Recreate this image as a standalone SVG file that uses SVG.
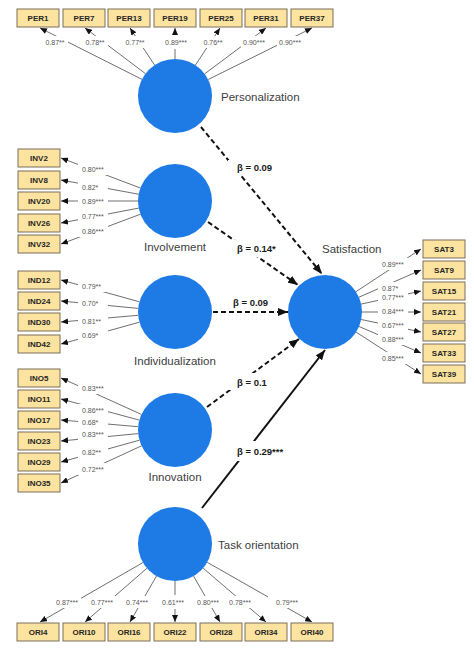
<svg xmlns="http://www.w3.org/2000/svg" width="474" height="651" viewBox="0 0 474 651">
<defs>
<style>
.box rect{fill:#FCE4A0;stroke:#7a6f5a;stroke-width:1}
.box text{font-family:"Liberation Sans",Arial,sans-serif;font-size:8px;font-weight:bold;fill:#262626;text-anchor:middle}
.lv circle{fill:#1E7BE6}
.lv text{font-family:"Liberation Sans",Arial,sans-serif;font-size:11.5px;fill:#404040}
.ind{stroke:#4a4a4a;stroke-width:0.8;fill:none;marker-end:url(#ah)}
.pth{stroke:#111;stroke-width:2;fill:none;marker-end:url(#ahL)}
.dash{stroke-dasharray:5 3}
.bg{fill:#fff}
.ld{font-family:"Liberation Sans",Arial,sans-serif;font-size:7px;fill:#555}
.ldc{text-anchor:middle}
.beta{font-family:"Liberation Sans",Arial,sans-serif;font-size:9.5px;font-weight:bold;fill:#1a1a1a}
</style>
<marker id="ah" markerUnits="userSpaceOnUse" markerWidth="7" markerHeight="6" refX="7" refY="3" orient="auto"><path d="M0,0 L7,3 L0,6 z" fill="#111"/></marker>
<marker id="ahL" markerUnits="userSpaceOnUse" markerWidth="10" markerHeight="8" refX="10" refY="4" orient="auto"><path d="M0,0 L10,4 L0,8 z" fill="#111"/></marker>
</defs>
<rect width="474" height="651" fill="#fff"/>
<g id="connectors">
<line class="ind" x1="142" y1="79.4" x2="40" y2="28"/>
<line class="ind" x1="145.5" y1="73.7" x2="85" y2="28"/>
<line class="ind" x1="154.6" y1="65.1" x2="130" y2="28"/>
<line class="ind" x1="175" y1="59" x2="175" y2="28"/>
<line class="ind" x1="195.4" y1="65.1" x2="220" y2="28"/>
<line class="ind" x1="204.6" y1="73.9" x2="266" y2="28"/>
<line class="ind" x1="208.2" y1="79.5" x2="312" y2="28"/>
<line class="ind" x1="140.4" y1="188" x2="61" y2="158"/>
<line class="ind" x1="138.6" y1="194.2" x2="61" y2="180"/>
<line class="ind" x1="138" y1="201" x2="61" y2="201"/>
<line class="ind" x1="138.7" y1="208.1" x2="61" y2="223"/>
<line class="ind" x1="140.5" y1="214.2" x2="61" y2="244"/>
<line class="ind" x1="139.4" y1="301.8" x2="61" y2="280"/>
<line class="ind" x1="138.2" y1="308.4" x2="61" y2="301"/>
<line class="ind" x1="138.1" y1="315.3" x2="61" y2="322"/>
<line class="ind" x1="139.4" y1="322.2" x2="61" y2="344"/>
<line class="ind" x1="141.4" y1="414.4" x2="61" y2="378"/>
<line class="ind" x1="139.3" y1="420.1" x2="61" y2="399"/>
<line class="ind" x1="138.1" y1="426.7" x2="61" y2="420"/>
<line class="ind" x1="138.2" y1="433.6" x2="61" y2="441"/>
<line class="ind" x1="139.4" y1="440.2" x2="61" y2="462"/>
<line class="ind" x1="141.6" y1="445.8" x2="61" y2="483"/>
<line class="ind" x1="355.9" y1="291.7" x2="421" y2="249"/>
<line class="ind" x1="358.9" y1="297.2" x2="421" y2="270"/>
<line class="ind" x1="361.1" y1="304.1" x2="421" y2="291"/>
<line class="ind" x1="362" y1="312" x2="421" y2="312"/>
<line class="ind" x1="361.2" y1="319.5" x2="421" y2="332"/>
<line class="ind" x1="359" y1="326.5" x2="421" y2="353"/>
<line class="ind" x1="356.1" y1="332.1" x2="421" y2="374"/>
<line class="ind" x1="143" y1="562.5" x2="40" y2="622"/>
<line class="ind" x1="147" y1="568.2" x2="85" y2="622"/>
<line class="ind" x1="156.5" y1="576" x2="130" y2="622"/>
<line class="ind" x1="175" y1="581" x2="175" y2="622"/>
<line class="ind" x1="193.5" y1="576" x2="220" y2="622"/>
<line class="ind" x1="203.1" y1="568.1" x2="266" y2="622"/>
<line class="ind" x1="207.2" y1="562.3" x2="312" y2="622"/>
<line class="pth dash" x1="201" y1="127" x2="322" y2="274"/>
<line class="pth dash" x1="208" y1="222" x2="298" y2="285"/>
<line class="pth dash" x1="213" y1="312" x2="288" y2="312"/>
<line class="pth dash" x1="207" y1="407" x2="299" y2="339"/>
<line class="pth" x1="202" y1="508" x2="325" y2="350"/>
</g>
<g id="loadings">
<rect class="bg" x="42" y="36" width="26" height="12"/><text class="ld ldc" x="55" y="44.5">0.87**</text>
<rect class="bg" x="82" y="36" width="26" height="12"/><text class="ld ldc" x="95" y="44.5">0.78**</text>
<rect class="bg" x="122" y="36" width="26" height="12"/><text class="ld ldc" x="135" y="44.5">0.77**</text>
<rect class="bg" x="163" y="35" width="26" height="14"/><text class="ld ldc" x="176" y="44.5">0.89***</text>
<rect class="bg" x="200" y="36" width="26" height="12"/><text class="ld ldc" x="213" y="44.5">0.76**</text>
<rect class="bg" x="241" y="36" width="26" height="12"/><text class="ld ldc" x="254" y="44.5">0.90***</text>
<rect class="bg" x="277" y="36" width="26" height="12"/><text class="ld ldc" x="290" y="44.5">0.90***</text>

<rect class="bg" x="78" y="163" width="30" height="12"/><text class="ld" x="82" y="171.5">0.80***</text>
<rect class="bg" x="78" y="181" width="30" height="12"/><text class="ld" x="82" y="189.5">0.82*</text>
<rect class="bg" x="78" y="195" width="30" height="12"/><text class="ld" x="82" y="203.5">0.89***</text>
<rect class="bg" x="78" y="210" width="30" height="12"/><text class="ld" x="82" y="218.5">0.77***</text>
<rect class="bg" x="78" y="225" width="30" height="12"/><text class="ld" x="82" y="233.5">0.86***</text>

<rect class="bg" x="78" y="280" width="30" height="12"/><text class="ld" x="82" y="288.5">0.79**</text>
<rect class="bg" x="78" y="297" width="30" height="12"/><text class="ld" x="82" y="305.5">0.70*</text>
<rect class="bg" x="78" y="315" width="30" height="12"/><text class="ld" x="82" y="323.5">0.81**</text>
<rect class="bg" x="78" y="329" width="30" height="12"/><text class="ld" x="82" y="337.5">0.69*</text>

<rect class="bg" x="78" y="382" width="30" height="12"/><text class="ld" x="82" y="390.5">0.83***</text>
<rect class="bg" x="78" y="404" width="30" height="12"/><text class="ld" x="82" y="412.5">0.86***</text>
<rect class="bg" x="78" y="416" width="30" height="12"/><text class="ld" x="82" y="424.5">0.68*</text>
<rect class="bg" x="78" y="428" width="30" height="12"/><text class="ld" x="82" y="436.5">0.83***</text>
<rect class="bg" x="78" y="446" width="30" height="12"/><text class="ld" x="82" y="454.5">0.82**</text>
<rect class="bg" x="78" y="463" width="30" height="12"/><text class="ld" x="82" y="471.5">0.72***</text>

<rect class="bg" x="378" y="258" width="30" height="12"/><text class="ld" x="382" y="266.5">0.89***</text>
<rect class="bg" x="378" y="282" width="30" height="12"/><text class="ld" x="382" y="290.5">0.87*</text>
<rect class="bg" x="378" y="291" width="30" height="12"/><text class="ld" x="382" y="299.5">0.77***</text>
<rect class="bg" x="378" y="305" width="30" height="12"/><text class="ld" x="382" y="313.5">0.84***</text>
<rect class="bg" x="378" y="319" width="30" height="12"/><text class="ld" x="382" y="327.5">0.67***</text>
<rect class="bg" x="378" y="333" width="30" height="12"/><text class="ld" x="382" y="341.5">0.88***</text>
<rect class="bg" x="378" y="352" width="30" height="12"/><text class="ld" x="382" y="360.5">0.85***</text>

<rect class="bg" x="53" y="596" width="28" height="12"/><text class="ld ldc" x="67" y="604.5">0.87***</text>
<rect class="bg" x="88" y="596" width="28" height="12"/><text class="ld ldc" x="102" y="604.5">0.77***</text>
<rect class="bg" x="123" y="596" width="28" height="12"/><text class="ld ldc" x="137" y="604.5">0.74***</text>
<rect class="bg" x="159" y="595" width="28" height="14"/><text class="ld ldc" x="173" y="604.5">0.61***</text>
<rect class="bg" x="194" y="596" width="28" height="12"/><text class="ld ldc" x="208" y="604.5">0.80***</text>
<rect class="bg" x="226" y="596" width="28" height="12"/><text class="ld ldc" x="240" y="604.5">0.78***</text>
<rect class="bg" x="268" y="596" width="32" height="12"/><text class="ld ldc" x="287" y="604.5">0.79***</text>
</g>
<g id="path-labels">
<rect class="bg" x="228" y="160" width="48" height="15"/><text class="beta" x="237" y="170.5">β = 0.09</text>
<rect class="bg" x="232" y="240" width="50" height="17"/><text class="beta" x="237" y="251.5">β = 0.14*</text>
<text class="beta" x="233" y="305.5">β = 0.09</text>
<rect class="bg" x="228" y="373" width="44" height="17"/><text class="beta" x="237" y="385.5">β = 0.1</text>
<rect class="bg" x="235" y="441" width="60" height="20"/><text class="beta" x="237" y="454.5">β = 0.29***</text>
</g>
<g id="personalization" class="lv"><circle cx="175" cy="96" r="37"/><text x="221" y="101">Personalization</text></g>
<g id="involvement" class="lv"><circle cx="175" cy="201" r="37"/><text x="175" y="251" text-anchor="middle">Involvement</text></g>
<g id="individualization" class="lv"><circle cx="175" cy="312" r="37"/><text x="175" y="365" text-anchor="middle">Individualization</text></g>
<g id="innovation" class="lv"><circle cx="175" cy="430" r="37"/><text x="175" y="481" text-anchor="middle">Innovation</text></g>
<g id="task-orientation" class="lv"><circle cx="175" cy="544" r="37"/><text x="218" y="549">Task orientation</text></g>
<g id="satisfaction" class="lv"><circle cx="325" cy="312" r="37"/><text x="322" y="253">Satisfaction</text></g>

<g id="PER1" class="box"><rect x="17" y="9" width="42" height="18"/><text x="38" y="21">PER1</text></g>
<g id="PER7" class="box"><rect x="63" y="9" width="42" height="18"/><text x="84" y="21">PER7</text></g>
<g id="PER13" class="box"><rect x="108" y="9" width="42" height="18"/><text x="129" y="21">PER13</text></g>
<g id="PER19" class="box"><rect x="154" y="9" width="42" height="18"/><text x="175" y="21">PER19</text></g>
<g id="PER25" class="box"><rect x="200" y="9" width="42" height="18"/><text x="221" y="21">PER25</text></g>
<g id="PER31" class="box"><rect x="245" y="9" width="42" height="18"/><text x="266" y="21">PER31</text></g>
<g id="PER37" class="box"><rect x="291" y="9" width="42" height="18"/><text x="312" y="21">PER37</text></g>

<g id="INV2" class="box"><rect x="18" y="149" width="42" height="18"/><text x="39" y="161">INV2</text></g>
<g id="INV8" class="box"><rect x="18" y="171" width="42" height="18"/><text x="39" y="183">INV8</text></g>
<g id="INV20" class="box"><rect x="18" y="192" width="42" height="18"/><text x="39" y="204">INV20</text></g>
<g id="INV26" class="box"><rect x="18" y="214" width="42" height="18"/><text x="39" y="226">INV26</text></g>
<g id="INV32" class="box"><rect x="18" y="235" width="42" height="18"/><text x="39" y="247">INV32</text></g>

<g id="IND12" class="box"><rect x="18" y="271" width="42" height="18"/><text x="39" y="283">IND12</text></g>
<g id="IND24" class="box"><rect x="18" y="292" width="42" height="18"/><text x="39" y="304">IND24</text></g>
<g id="IND30" class="box"><rect x="18" y="313" width="42" height="18"/><text x="39" y="325">IND30</text></g>
<g id="IND42" class="box"><rect x="18" y="335" width="42" height="18"/><text x="39" y="347">IND42</text></g>

<g id="INO5" class="box"><rect x="18" y="369" width="42" height="18"/><text x="39" y="381">INO5</text></g>
<g id="INO11" class="box"><rect x="18" y="390" width="42" height="18"/><text x="39" y="402">INO11</text></g>
<g id="INO17" class="box"><rect x="18" y="411" width="42" height="18"/><text x="39" y="423">INO17</text></g>
<g id="INO23" class="box"><rect x="18" y="432" width="42" height="18"/><text x="39" y="444">INO23</text></g>
<g id="INO29" class="box"><rect x="18" y="453" width="42" height="18"/><text x="39" y="465">INO29</text></g>
<g id="INO35" class="box"><rect x="18" y="474" width="42" height="18"/><text x="39" y="486">INO35</text></g>

<g id="SAT3" class="box"><rect x="423" y="240" width="42" height="18"/><text x="444" y="252">SAT3</text></g>
<g id="SAT9" class="box"><rect x="423" y="261" width="42" height="18"/><text x="444" y="273">SAT9</text></g>
<g id="SAT15" class="box"><rect x="423" y="282" width="42" height="18"/><text x="444" y="294">SAT15</text></g>
<g id="SAT21" class="box"><rect x="423" y="303" width="42" height="18"/><text x="444" y="315">SAT21</text></g>
<g id="SAT27" class="box"><rect x="423" y="323" width="42" height="18"/><text x="444" y="335">SAT27</text></g>
<g id="SAT33" class="box"><rect x="423" y="344" width="42" height="18"/><text x="444" y="356">SAT33</text></g>
<g id="SAT39" class="box"><rect x="423" y="365" width="42" height="18"/><text x="444" y="377">SAT39</text></g>

<g id="ORI4" class="box"><rect x="17" y="623" width="42" height="18"/><text x="38" y="635">ORI4</text></g>
<g id="ORI10" class="box"><rect x="63" y="623" width="42" height="18"/><text x="84" y="635">ORI10</text></g>
<g id="ORI16" class="box"><rect x="108" y="623" width="42" height="18"/><text x="129" y="635">ORI16</text></g>
<g id="ORI22" class="box"><rect x="154" y="623" width="42" height="18"/><text x="175" y="635">ORI22</text></g>
<g id="ORI28" class="box"><rect x="200" y="623" width="42" height="18"/><text x="221" y="635">ORI28</text></g>
<g id="ORI34" class="box"><rect x="245" y="623" width="42" height="18"/><text x="266" y="635">ORI34</text></g>
<g id="ORI40" class="box"><rect x="291" y="623" width="42" height="18"/><text x="312" y="635">ORI40</text></g>
</svg>
